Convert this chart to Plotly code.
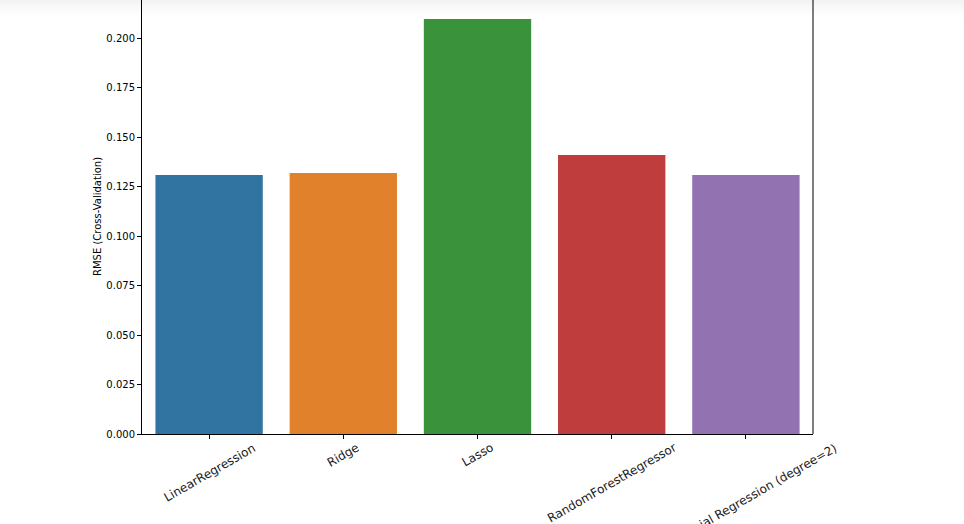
import plotly.graph_objects as go

# Model names and cross-validated RMSE
models = ['LinearRegression', 'Ridge', 'Lasso', 'RandomForestRegressor',
          'Polynomial Regression (degree=2)']
rmse = [0.1308, 0.1318, 0.2096, 0.1409, 0.1308]
colors = ['#3274a1', '#e1812c', '#3a923a', '#c03d3e', '#9372b2']
y_ticks = [0.0, 0.025, 0.05, 0.075, 0.1, 0.125, 0.15, 0.175, 0.2]

fig = go.Figure(go.Bar(x=models, y=rmse, marker_color=colors,
                       marker_line_width=0, width=0.8))

fig.update_layout(
    width=964, height=524,
    margin=dict(l=142, r=151, t=0, b=90),
    plot_bgcolor='white', paper_bgcolor='white',
    font=dict(family='DejaVu Sans', size=10, color='black'),
    showlegend=False,
)
fig.update_xaxes(
    range=[-0.5, 4.5], showticklabels=False, automargin=False,
    showline=True, linecolor='black', linewidth=1,
    ticks='outside', ticklen=4, tickcolor='black',
    showgrid=False,
)
fig.update_yaxes(
    range=[0, 0.2192], tickvals=y_ticks, automargin=False,
    ticktext=['%.3f' % v for v in y_ticks],
    showline=True, linecolor='black', linewidth=1,
    ticks='outside', ticklen=4, tickcolor='black',
    showgrid=False, zeroline=False,
)
# y axis title
fig.add_annotation(x=0, xref='paper', y=0.5, yref='paper', xshift=-45,
                   text='RMSE (Cross-Validation)', showarrow=False,
                   textangle=-90, xanchor='center', yanchor='middle',
                   font=dict(size=10, color='black'))
# rotated category labels, centred under each tick like matplotlib
for m in models:
    fig.add_annotation(x=m, y=0, yref='paper', text=m, showarrow=False,
                       textangle=-30, xanchor='center', yanchor='top',
                       yshift=-4, font=dict(size=12, color='#1a1a1a'))
# right spine
fig.add_shape(type='line', xref='paper', yref='paper', x0=1, x1=1, y0=0, y1=1,
              line=dict(color='black', width=1))
# faint shadow at the top edge
for i, a in enumerate([0.012, 0.01, 0.008, 0.006, 0.004, 0.002]):
    fig.add_shape(type='rect', xref='paper', yref='paper', x0=-0.3, x1=1.3,
                  y0=1 - (i + 1) * 3 / 434, y1=1.1, fillcolor='black',
                  opacity=a, line_width=0, layer='above')

fig.write_html('out.html', config={'displayModeBar': False},
               post_script="document.body.style.margin='0';")
